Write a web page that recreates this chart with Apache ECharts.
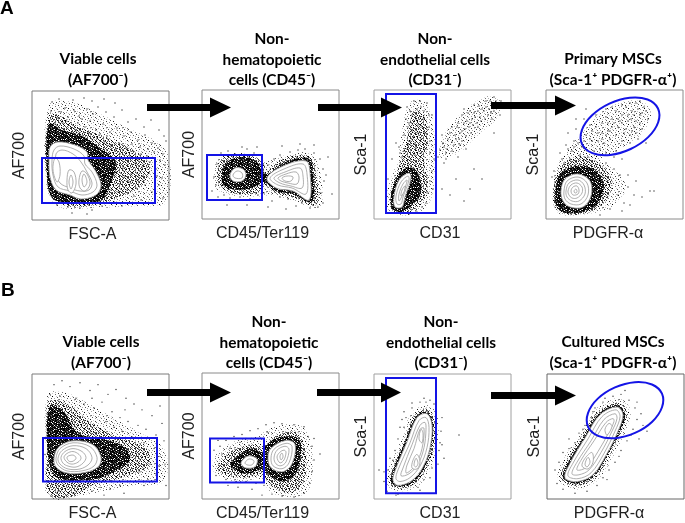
<!DOCTYPE html>
<html>
<head>
<meta charset="utf-8">
<style>html,body{margin:0;padding:0;background:#fff}#chart{width:685px;height:523px}</style>
<script src="https://cdn.jsdelivr.net/npm/echarts@6/dist/echarts.min.js"></script>
</head>
<body>
<div id="chart"></div>
<script>
// all panel values are events, axes run 0-137 and 0-129
var a1Light = [[[17,115],[40,118],[70,105],[100,90],[134,70],[134,18],[105,14],[60,12],[25,14],[14,40]]];
var a1Mid = [[17,105],[30,103],[50,92],[75,82],[100,70],[118,55],[110,35],[85,22],[65,15],[30,16],[15,40]];
var a1Dark = [[17,96],[30,90],[50,84],[68,72],[84,58],[80,40],[72,22],[60,17],[38,17],[20,22],[15,45]];
var a1Dots = [[20,118],[27,121],[33,112],[41,120],[52,122],[60,119],[72,121],[83,117],[19,109],[24,105],[29,108],[36,103],[42,110],[47,104],[55,111],[61,106],[66,113],[74,108],[82,103],[90,110],[96,98],[104,101],[112,93],[119,100],[127,90],[132,84],[22,96],[31,97],[39,92],[46,97],[53,93],[58,99],[64,90],[71,96],[78,88],[85,92],[92,84],[99,88],[106,80],[113,85],[120,77],[126,72],[131,66],[134,79],[65,82],[72,78],[79,74],[87,77],[94,72],[101,69],[108,73],[115,64],[122,68],[128,60],[133,55],[88,66],[96,60],[103,57],[110,53],[117,47],[124,51],[130,42],[92,52],[99,46],[106,40],[113,35],[120,28],[127,35],[84,48],[78,40],[88,36],[95,30],[102,24],[109,20],[116,17],[123,20],[75,22],[82,18],[90,14],[70,14],[60,10],[48,12],[36,13],[25,15],[40,7],[55,6],[131,22],[26,102],[34,99],[44,89],[50,101],[57,87],[68,86],[75,84],[83,70],[91,62],[98,64],[105,61],[93,44],[86,28],[79,30],[97,38],[104,32],[111,44],[118,58],[125,44],[100,76],[109,66],[116,71]];
var a1Rings = [
  [[18,73],[26,78],[43,75],[55,68],[56,60],[63,50],[69,35],[64,25],[49,21],[38,25],[24,30],[18,43],[17,60]],
  [[22,70],[28,74],[42,71],[52,64],[53,56],[60,48],[65,35],[61,28],[50,25],[38,29],[26,33],[21,45],[20,60]],
  [[24,66],[30,70],[41,66],[49,58],[55,48],[60,37],[57,30],[48,29],[38,32],[28,37],[24,47]],
  [[21,50],[23,62],[27,58],[28,45],[25,38]],
  [[35,40],[37,50],[42,48],[44,36],[40,27],[36,30]],
  [[37,38],[39,45],[41,38],[39,31]],
  [[47,40],[50,49],[55,46],[58,36],[53,29],[48,32]],
  [[50,40],[52,46],[55,38],[52,33]]
];
var a1Gate = [[10,17],[123,17],[123,62],[10,62]];

var a2Light = [[[13,32],[16,60],[40,66],[62,58],[80,63],[108,66],[118,48],[118,12],[92,18],[70,24],[50,22],[30,24]]];
var a2Mid = [[16,36],[20,60],[42,65],[60,58],[65,48],[80,60],[106,63],[114,48],[114,14],[90,22],[73,26],[62,34],[55,26],[30,26]];
var a2Dark = [[20,36],[24,56],[42,62],[56,56],[60,48],[66,45],[81,56],[106,61],[111,48],[110,17],[91,25],[74,28],[64,36],[56,34],[48,30],[30,30]];
var a2Dots = [[12,42],[15,55],[19,66],[26,68],[33,65],[45,70],[52,66],[58,64],[66,54],[72,60],[78,64],[88,67],[96,69],[103,70],[112,66],[118,60],[121,50],[122,38],[119,26],[121,16],[116,12],[108,11],[100,16],[94,13],[86,20],[78,22],[70,18],[62,26],[56,24],[48,20],[38,22],[28,21],[22,24],[14,34],[10,28],[25,14],[45,14],[66,12],[126,62],[112,74],[98,75],[80,73],[130,25],[84,10],[55,72],[40,72],[16,22],[60,20],[124,44]];
var a2Rings = [
  [[28,44],[33,51],[41,50],[44,44],[40,38],[31,38]],
  [[31,44],[35,48],[40,46],[40,41],[33,41]],
  [[65,41],[81,53],[104,58],[108,46],[107,19],[91,28],[74,31]],
  [[68,41],[82,50],[101,55],[105,45],[104,25],[90,31],[76,34]],
  [[72,41],[83,47],[98,51],[101,43],[100,31],[89,33],[78,36]],
  [[76,41],[84,45],[94,47],[97,42],[95,35],[86,36],[79,38]],
  [[80,41],[85,43],[91,42],[89,38],[83,38]]
];
var a2Gate = [[5,19],[60,19],[60,64],[5,64]];

var a3Light = [[[14,8],[14,30],[24,60],[30,100],[38,118],[52,116],[60,90],[60,40],[54,14],[36,4]],[[66,62],[70,84],[90,108],[112,122],[126,118],[122,100],[104,84],[84,66]]];
var a3Mid = [[17,12],[17,28],[26,55],[34,85],[40,108],[50,104],[54,80],[50,58],[54,34],[46,14],[28,6]];
var a3Dark = [[18,10],[17,24],[24,44],[35,52],[44,46],[47,26],[36,12],[26,7]];
var a3Dots = [[28,62],[33,70],[36,78],[30,84],[38,88],[42,72],[47,80],[52,70],[44,94],[49,100],[38,104],[43,110],[50,108],[55,92],[56,78],[25,72],[35,96],[32,100],[40,118],[46,118],[53,116],[58,104],[60,60],[58,48],[56,38],[54,26],[52,16],[48,12],[42,8],[35,5],[59,30],[18,60],[14,40],[22,76],[66,69],[70,72],[74,80],[78,77],[72,66],[81,84],[85,80],[83,92],[88,88],[92,83],[90,96],[95,92],[98,100],[103,96],[100,106],[106,102],[110,108],[105,113],[114,104],[118,112],[122,118],[112,118],[118,100],[96,108],[88,104],[78,92],[68,84],[64,62],[70,56],[84,62],[92,70],[100,50],[108,40],[96,30],[82,40],[76,24],[120,86],[126,104],[90,18],[68,30],[69,76],[73,70],[76,86],[80,74],[82,80],[86,86],[84,96],[88,78],[91,90],[93,98],[97,86],[96,96],[99,94],[101,102],[104,92],[104,108],[107,98],[108,110],[111,100],[112,112],[115,110],[117,106],[116,118],[120,108],[120,122],[124,114],[127,118],[94,106],[90,110],[100,114],[86,74],[78,68],[72,60],[30,68],[26,66],[34,74],[39,82],[44,86],[48,92],[51,86],[53,76],[47,66],[41,64],[36,108],[42,100],[47,112],[55,104],[33,112],[34,92],[41,76],[56,66]];
var a3Rings = [
  [[21,12],[20,22],[25,39],[35,46],[37,41],[31,22],[28,12]],
  [[23,15],[22,23],[27,37],[34,43],[35,39],[29,22],[27,15]],
  [[25,18],[25,25],[29,35],[33,39],[32,34],[28,23]],
  [[27,23],[28,29],[31,33],[30,27]]
];
var a3Gate = [[12,6],[62,6],[62,125],[12,125]];

var a4Light = [[[7,18],[10,50],[25,70],[45,64],[65,52],[80,32],[65,12],[40,5],[14,5]],[[22,66],[38,88],[50,103],[70,115],[95,118],[105,105],[95,85],[70,68],[50,60]]];
var a4Mid = [[7,22],[12,48],[30,62],[50,58],[66,38],[58,16],[40,6],[18,5],[9,12]];
var a4Dark = [[9,25],[14,45],[30,53],[48,50],[58,34],[52,16],[40,8],[20,6],[11,12]];
var a4Dots = [[14,66],[20,74],[26,68],[22,86],[30,90],[28,78],[36,72],[40,84],[44,94],[38,100],[46,78],[52,86],[50,104],[56,96],[60,110],[62,88],[66,100],[70,108],[72,92],[76,104],[80,112],[82,98],[86,108],[90,116],[88,92],[94,104],[98,112],[96,90],[102,100],[58,76],[64,80],[70,84],[76,78],[84,84],[92,80],[54,70],[48,68],[42,62],[34,64],[60,56],[68,50],[74,44],[82,32],[88,24],[72,24],[78,16],[64,10],[104,28],[108,28],[40,110],[30,100],[100,76],[6,42],[12,28],[70,68],[56,86],[46,88],[66,92],[74,98],[80,90],[90,98],[84,76],[62,96],[52,78],[36,88],[24,60],[18,56],[56,80],[60,84],[64,88],[68,96],[72,100],[76,96],[78,86],[82,104],[85,100],[88,104],[92,110],[96,106],[100,108],[86,88],[90,86],[94,96],[60,102],[66,112],[76,114],[84,116],[94,118],[50,92],[44,80],[38,78],[32,76],[28,72],[22,70],[16,60],[8,48],[60,66],[68,62],[76,60],[82,44],[90,38],[96,22],[84,14],[76,8],[54,4]];
var a4Rings = [
  [[15,28],[19,40],[32,45],[44,38],[45,23],[37,12],[24,12],[17,18]],
  [[18,28],[21,38],[32,42],[41,36],[42,24],[35,15],[25,15],[19,20]],
  [[20,28],[23,36],[32,39],[38,34],[39,25],[33,18],[26,18],[21,22]],
  [[22,28],[25,34],[31,36],[36,32],[36,26],[31,21],[26,21],[23,24]],
  [[25,28],[27,32],[31,33],[33,29],[32,25],[27,24]],
  [[28,28],[30,30],[31,27],[29,26]]
];
var a4Gate = [[112,110.5],[101.6,119.5],[83.8,121.3],[63.4,115.4],[45.8,103.5],[35.8,88.7],[36,74.9],[46.4,65.9],[64.2,64.1],[84.6,70],[102.2,81.9],[112.2,96.8]];

var b1Light = [[[16,108],[38,108],[70,90],[105,70],[132,52],[132,18],[100,14],[60,6],[17,2],[14,50]]];
var b1Mid = [[17,100],[35,98],[60,78],[85,64],[112,55],[118,35],[90,22],[60,14],[45,4],[18,4],[15,55]];
var b1Dark = [[18,96],[32,90],[46,68],[70,62],[92,54],[98,40],[80,27],[60,20],[25,22],[16,45]];
var b1Dots = [[22,118],[30,122],[38,116],[48,120],[58,112],[66,118],[76,108],[84,113],[94,104],[102,98],[110,92],[120,86],[130,78],[18,108],[28,106],[44,104],[52,98],[62,94],[70,100],[80,90],[88,84],[96,80],[106,76],[114,72],[124,66],[132,60],[74,80],[90,70],[100,64],[112,58],[122,52],[128,44],[133,36],[118,36],[124,26],[116,20],[108,28],[98,18],[88,14],[78,10],[68,12],[60,8],[52,10],[42,6],[34,4],[26,8],[20,3],[46,13],[30,12],[134,14],[112,14],[92,6],[72,4],[104,44],[116,48],[127,34],[82,74],[93,92],[60,104],[15,88],[13,46],[128,96]];
var b1Rings = [
  [[22,41],[26,53],[41,60],[61,56],[69,43],[66,33],[51,27],[34,27],[24,33]],
  [[24,42],[28,52],[41,58],[58,54],[65,43],[62,34],[50,29],[35,29],[26,35]],
  [[26,42],[30,50],[41,55],[54,52],[60,43],[57,36],[48,31],[36,31],[28,36]],
  [[29,43],[33,49],[41,52],[50,49],[54,43],[51,37],[44,33],[36,34],[31,37]],
  [[32,43],[35,47],[41,49],[47,46],[49,42],[46,38],[40,36],[35,38]],
  [[35,43],[38,45],[42,45],[44,42],[41,39],[37,39]]
];
var b1Gate = [[11,18],[125,18],[125,63],[11,63]];

var b2Light = [[[12,28],[13,44],[35,60],[55,64],[72,74],[100,74],[110,50],[106,8],[85,2],[68,8],[58,20],[35,18]]];
var b2Mid = [[15,32],[28,48],[50,56],[63,54],[75,65],[95,68],[104,45],[100,14],[85,6],[70,13],[60,24],[45,22],[25,24]];
var b2Dark = [[28,35],[38,46],[50,52],[60,48],[63,54],[76,63],[96,62],[99,45],[94,26],[82,18],[70,22],[60,30],[48,26],[36,28]];
var b2Dots = [[12,50],[18,54],[24,60],[32,64],[40,66],[48,70],[56,72],[64,76],[72,78],[80,77],[92,76],[102,74],[106,64],[110,54],[112,40],[110,28],[108,16],[102,6],[92,2],[80,3],[70,5],[62,14],[54,16],[44,18],[34,18],[24,20],[14,24],[8,36],[28,52],[38,58],[20,46],[66,68],[112,62],[118,46],[60,4],[26,14],[16,60],[44,62],[36,12],[50,10]];
var b2Rings = [
  [[39,37],[46,44],[55,41],[53,33],[43,32]],
  [[43,37],[47,41],[52,39],[50,35],[45,35]],
  [[66,42],[69,52],[84,60],[93,56],[90,36],[81,28],[69,32]],
  [[69,42],[72,51],[84,57],[90,54],[87,37],[80,31],[71,34]],
  [[72,42],[75,50],[83,54],[87,51],[84,38],[79,34],[74,36]],
  [[75,43],[78,48],[82,50],[84,48],[82,40],[78,37]],
  [[78,44],[80,47],[81,43],[79,40]]
];
var b2Gate = [[8,17],[62,17],[62,62],[8,62]];

var b3Light = [[[13,16],[14,30],[27,60],[37,88],[53,97],[64,84],[63,54],[55,28],[42,12],[22,8]]];
var b3Mid = [[15,17],[18,30],[30,59],[40,86],[53,93],[61,79],[60,53],[52,31],[40,15],[24,11]];
var b3Dark = [[17,18],[19,29],[31,59],[42,85],[53,90],[59,77],[57,53],[50,32],[39,17],[24,13]];
var b3Dots = [[12,34],[16,42],[21,50],[24,62],[30,74],[32,84],[38,94],[46,100],[56,102],[62,94],[68,84],[67,70],[66,58],[62,42],[58,32],[50,20],[44,12],[34,6],[22,4],[13,8],[10,18],[85,66],[68,56],[5,30],[70,42],[38,99],[52,100],[60,98],[30,90],[26,74],[19,40],[24,5],[46,9],[56,22],[64,36],[14,30],[50,104],[10,28],[65,50],[28,82]];
var b3Rings = [
  [[19,19],[21,29],[33,59],[43,84],[53,88],[58,76],[56,53],[49,33],[38,19],[24,14]],
  [[22,21],[24,30],[36,58],[45,81],[52,84],[55,74],[53,53],[46,34],[36,22],[26,18]],
  [[27,24],[29,32],[38,56],[46,76],[51,79],[52,72],[50,53],[44,36],[35,26]],
  [[32,27],[33,35],[40,52],[46,72],[50,73],[48,52],[42,36],[36,29]],
  [[38,32],[39,40],[43,46],[46,38],[43,31]],
  [[40,35],[42,42],[44,37],[42,33]],
  [[45,62],[47,72],[49,68],[48,58]]
];
var b3Gate = [[12,6],[62,6],[62,125],[12,125]];

var b4Light = [[[11,20],[16,40],[34,68],[50,94],[72,104],[84,90],[78,68],[66,44],[52,20],[30,10]]];
var b4Mid = [[14,21],[19,38],[35,65],[51,90],[71,99],[80,88],[74,69],[63,46],[49,23],[30,14]];
var b4Dark = [[16,22],[21,37],[37,64],[52,88],[70,97],[78,87],[73,70],[61,47],[47,24],[30,16]];
var b4Dots = [[8,30],[12,38],[16,48],[22,52],[28,58],[32,68],[38,76],[44,84],[48,94],[56,100],[66,106],[74,108],[82,102],[88,94],[90,82],[86,72],[80,60],[74,50],[68,38],[62,30],[56,22],[50,14],[40,8],[28,6],[16,10],[10,16],[94,88],[96,76],[90,100],[100,70],[58,104],[78,112],[36,72],[26,48],[72,44],[60,20],[46,90],[84,66],[92,62],[22,62]];
var b4Rings = [
  [[18,22],[23,37],[38,63],[53,87],[70,95],[76,87],[71,70],[60,47],[46,25],[30,18]],
  [[21,24],[26,37],[41,62],[55,85],[69,92],[73,85],[68,70],[57,47],[44,27],[31,21]],
  [[25,26],[30,38],[44,60],[57,82],[68,88],[70,83],[65,70],[54,48],[42,30],[32,25]],
  [[30,30],[34,40],[47,60],[59,79],[66,83],[67,80],[62,69],[51,49],[40,33]],
  [[35,34],[38,42],[45,48],[46,38],[41,31]],
  [[38,36],[41,43],[43,38],[40,33]],
  [[58,72],[62,78],[65,75],[60,66]]
];
var b4Gate = [[115,108.7],[105,118.2],[87.8,120.6],[68,115.2],[50.8,103.6],[41,88.7],[41,74.7],[51,65.2],[68.2,62.8],[88,68.2],[105.2,79.8],[115,94.7]];

var xNames = ['FSC-A', 'CD45/Ter119', 'CD31', 'PDGFR-α'];
var yNames = ['AF700', 'AF700', 'Sca-1', 'Sca-1'];

// stipple tiles for the dense parts of the clouds, digit = darkness of a pixel
var sparseTile = ['0030000700200005','7000200000006000','0000050030000003','0200000000800000','0006000400000200','0000300000050007','5000000070000000','0030060000200300','0000000300000060','0800200000700000','0000000500000400','0040000000030000','0000900020000008','3000000006000100','0006003000000000','0000000000450200'];
var midTile = ['7006008009000570','0080500700640008','6000090050070900','0907000860000050','4000680007009006','0080000950600070','7050900000480009','0006007080000500','8900050009607000','0004800600000890','0700006000750000','5060090300008040','0008000709005007','9000750040060800','0600009000800005','0070400860070900'];
var denseTile = ['9790896397098697','6098950998759089','9897089970698980','9059976809907699','8990697990689095','0798909576909879','9650987099780996','7999068990569709','9089709697990987','5997890980896099','9709959079079689','8096879908969070','9989069798059998','0797990605979689','9689708998709079','7905969879968905'];

var panels = [
  {left: 32, top: 91, xi: 0, light: a1Light, mid: a1Mid, dark: a1Dark, dots: a1Dots, rings: a1Rings, gate: a1Gate, shift: 16, edge: '#7a7a7a'},
  {left: 202, top: 90, xi: 1, light: a2Light, mid: a2Mid, dark: a2Dark, dots: a2Dots, rings: a2Rings, gate: a2Gate, shift: 16, edge: '#8a8a8a'},
  {left: 374, top: 90, xi: 2, light: a3Light, mid: a3Mid, dark: a3Dark, dots: a3Dots, rings: a3Rings, gate: a3Gate, shift: 5, edge: '#a0a0a0'},
  {left: 546, top: 90, xi: 3, light: a4Light, mid: a4Mid, dark: a4Dark, dots: a4Dots, rings: a4Rings, gate: a4Gate, shift: 13, edge: '#8a8a8a'},
  {left: 32, top: 374, xi: 0, light: b1Light, mid: b1Mid, dark: b1Dark, dots: b1Dots, rings: b1Rings, gate: b1Gate, shift: 16, edge: '#7a7a7a'},
  {left: 202, top: 373, xi: 1, light: b2Light, mid: b2Mid, dark: b2Dark, dots: b2Dots, rings: b2Rings, gate: b2Gate, shift: 16, edge: '#8a8a8a'},
  {left: 374, top: 374, xi: 2, light: b3Light, mid: b3Mid, dark: b3Dark, dots: b3Dots, rings: b3Rings, gate: b3Gate, shift: 5, edge: '#a0a0a0'},
  {left: 547, top: 374, xi: 3, light: b4Light, mid: b4Mid, dark: b4Dark, dots: b4Dots, rings: b4Rings, gate: b4Gate, shift: 13, edge: '#666'}
];

var titleFont = {fontFamily: 'Lato', fontWeight: 700, fontSize: 15.4, lineHeight: 20.5, color: '#000'};
var heads = [
  {x: 98, y: 49, text: 'Viable cells\n(AF700⁻)'},
  {x: 272, y: 29, text: 'Non-\nhematopoietic\ncells (CD45⁻)'},
  {x: 435, y: 29, text: 'Non-\nendothelial cells\n(CD31⁻)'},
  {x: 613, y: 49, text: 'Primary MSCs\n(Sca-1⁺ PDGFR-α⁺)'},
  {x: 101, y: 332, text: 'Viable cells\n(AF700⁻)'},
  {x: 269, y: 312, text: 'Non-\nhematopoietic\ncells (CD45⁻)'},
  {x: 441, y: 312, text: 'Non-\nendothelial cells\n(CD31⁻)'},
  {x: 613, y: 332, text: 'Cultured MSCs\n(Sca-1⁺ PDGFR-α⁺)'}
];

// x0 shaft start, x1 head base, x2 tip, y centre line
var arrows = [
  [147, 210, 231, 107.5], [318, 381, 402, 107.5], [491, 555, 576, 105.5],
  [147, 210, 231, 392.5], [317, 381, 401, 392.5], [491, 555, 576, 395.5]
];

function makeTile(rows) {
  var c = document.createElement('canvas');
  c.width = rows[0].length;
  c.height = rows.length;
  var ctx = c.getContext('2d');
  rows.forEach(function (row, y) {
    row.split('').forEach(function (d, x) {
      ctx.fillStyle = 'rgba(0,0,0,' + (+d / 9) + ')';
      ctx.fillRect(x, y, 1, 1);
    });
  });
  return {image: c, repeat: 'repeat'};
}
var sparseFill = makeTile(sparseTile), midFill = makeTile(midTile), denseFill = makeTile(denseTile);

var grid = [], xAxis = [], yAxis = [], series = [];

function polySeries(i, polys, z, style, smooth) {
  return {
    type: 'custom', xAxisIndex: i, yAxisIndex: i, z: z, silent: true, clip: false,
    data: polys.map(function (p, n) { return [n, 0]; }),
    renderItem: function (params, api) {
      var pts = polys[params.dataIndex].map(function (p) { return api.coord(p); });
      return {type: 'polygon', shape: {points: pts, smooth: smooth}, style: style(params.dataIndex)};
    }
  };
}

panels.forEach(function (p, i) {
  grid.push({left: p.left, top: p.top, width: 137, height: 129, show: true, borderColor: p.edge, borderWidth: 1, backgroundColor: '#fff'});
  xAxis.push({
    gridIndex: i, type: 'value', min: 0, max: 137, axisLine: {show: false}, axisTick: {show: false},
    axisLabel: {show: false}, splitLine: {show: false},
    name: xNames[p.xi], nameLocation: 'middle', nameGap: 7,
    nameTextStyle: {fontFamily: 'Liberation Sans', fontSize: 16, color: '#222', padding: [0, p.shift, 0, 0]}
  });
  yAxis.push({
    gridIndex: i, type: 'value', min: 0, max: 129, axisLine: {show: false}, axisTick: {show: false},
    axisLabel: {show: false}, splitLine: {show: false},
    name: yNames[p.xi], nameLocation: 'middle', nameGap: 4,
    nameTextStyle: {fontFamily: 'Liberation Sans', fontSize: 16, color: '#222'}
  });
  series.push(polySeries(i, p.light, 2, function () { return {fill: sparseFill}; }, 0.35));
  series.push(polySeries(i, [p.mid], 2, function () { return {fill: midFill}; }, 0.35));
  series.push(polySeries(i, [p.dark], 3, function () { return {fill: denseFill}; }, 0.35));
  series.push({
    type: 'scatter', xAxisIndex: i, yAxisIndex: i, z: 4, silent: true, data: p.dots,
    symbolSize: 1.4, itemStyle: {color: '#000'}
  });
  series.push(polySeries(i, p.rings, 5, function () {
    return {fill: '#fff', stroke: '#9a9a9a', lineWidth: 0.8};
  }, 0.35));
  series.push(polySeries(i, [p.gate], 6, function () {
    return {fill: 'none', stroke: '#1414e6', lineWidth: 2};
  }, p.gate.length > 4 ? 0.35 : 0));
});

var titles = heads.map(function (h) {
  return {left: h.x, top: h.y, padding: 0, textAlign: 'center', text: h.text, textStyle: titleFont};
});
titles.push({left: 0, top: -1, padding: 0, text: 'A', textStyle: {fontFamily: 'Liberation Sans', fontWeight: 700, fontSize: 19, color: '#000'}});
titles.push({left: 1, top: 281, padding: 0, text: 'B', textStyle: {fontFamily: 'Liberation Sans', fontWeight: 700, fontSize: 19, color: '#000'}});

var arrowShapes = arrows.map(function (a) {
  return {
    type: 'polygon', silent: true, z: 100,
    shape: {points: [[a[0], a[3] - 3.5], [a[1], a[3] - 3.5], [a[1], a[3] - 10], [a[2], a[3]], [a[1], a[3] + 10], [a[1], a[3] + 3.5], [a[0], a[3] + 3.5]]},
    style: {fill: '#000'}
  };
});

var myChart = echarts.init(document.getElementById('chart'));
myChart.setOption({
  animation: false,
  title: titles,
  grid: grid,
  xAxis: xAxis,
  yAxis: yAxis,
  series: series,
  graphic: arrowShapes
});
</script>
</body>
</html>
